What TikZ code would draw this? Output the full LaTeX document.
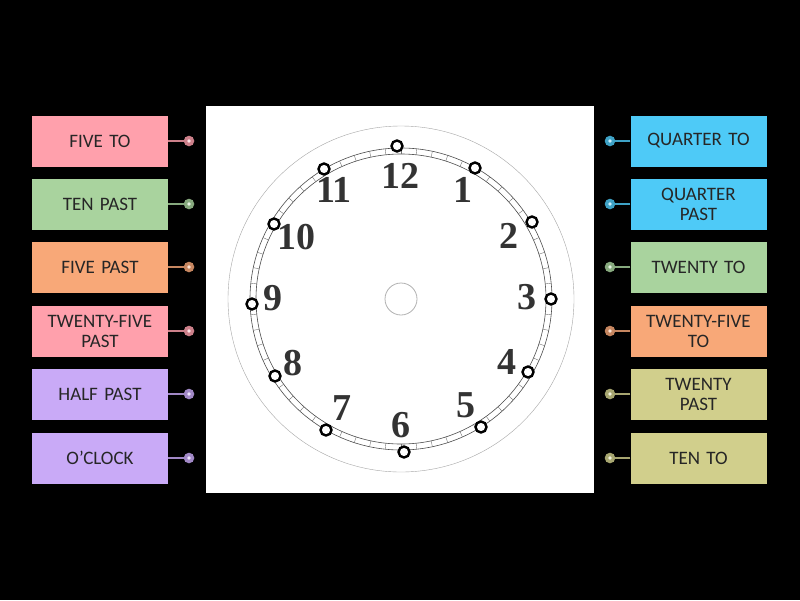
\documentclass[tikz,border=0pt]{standalone}
\usepackage{fontspec}
\usetikzlibrary{calc}
\setmainfont{Carlito}
\newfontfamily\numfont{Liberation Serif}
\definecolor{cpink}{HTML}{FFA0AC}
\definecolor{cgreen}{HTML}{A9D39E}
\definecolor{corange}{HTML}{F8A878}
\definecolor{cpurple}{HTML}{C9AAF7}
\definecolor{cblue}{HTML}{4ECAF7}
\definecolor{colive}{HTML}{D1CF8C}
\tikzset{
 lab/.style={fill=#1, minimum width=136pt, minimum height=51pt, inner sep=2pt, align=center, font=\fontsize{19}{20}\selectfont, text=black!85, text width=132pt},
 pin/.style={circle, fill=#1!80!black, draw=#1!80!black, line width=1.5pt, inner sep=0pt, minimum size=9pt, path picture={\fill[#1!30!white] (path picture bounding box.center) circle (1.8pt);}},
 hole/.style={circle, draw=black, line width=2.4pt, fill=white, inner sep=0pt, minimum size=11pt},
 num/.style={font=\numfont\bfseries\fontsize{38}{38}\selectfont, text=black!80}
}
\begin{document}
\begin{tikzpicture}[x=1pt,y=-1pt]
\fill[black] (0,0) rectangle (800,600);
\useasboundingbox (0,0) rectangle (800,600);
\fill[white] (206,106) rectangle (594,493);
\coordinate (c) at (401,299);
\draw[black!35, line width=0.4pt] (c) circle (173);
\draw[black!70, line width=0.6pt] (c) circle (151);
\draw[black!70, line width=0.6pt] (c) circle (145);
\foreach \i in {0,...,59} \draw[black!55, line width=0.4pt] ($(c)+(\i*6:145)$) -- ($(c)+(\i*6:151)$);
\draw[black!30, line width=0.8pt] (c) circle (16);
\foreach \n/\x/\y in {12/400/176,1/463/190,2/509/236,3/527/297,4/507/362,5/466/405,6/401/425,7/342/408,8/293/363,9/273/298,10/296/237,11/334/190}
  \node[num] (n\n) at (\x,\y) {\n};
\foreach \n/\x/\y in {12/397/146,1/475/168,2/532/222,3/551/299,4/528/372,5/481/427,6/404/452,7/326/430,8/275/376,9/252/304,10/274/224,11/324/169}
  \node[hole] (h\n) at (\x,\y) {};
% left
\foreach \k/\t/\col/\y in {a/FIVE TO/cpink/141, b/TEN PAST/cgreen/204, c/FIVE PAST/corange/267, d/TWENTY-FIVE\\PAST/cpink/331, e/HALF PAST/cpurple/394, f/O'CLOCK/cpurple/458}{
  \node[lab=\col] (L\k) at (100,\y) {\t};
  \node[pin=\col] (P\k) at (189,\y) {};
  \draw[\col!80!black, line width=2pt] (L\k.east) -- (P\k);
}
% right
\foreach \k/\t/\col/\y in {a/QUARTER TO/cblue/141, b/QUARTER\\PAST/cblue/204, c/TWENTY TO/cgreen/267, d/TWENTY-FIVE\\TO/corange/331, e/TWENTY\\PAST/colive/394, f/TEN TO/colive/458}{
  \node[lab=\col] (R\k) at (698.5,\y) {\t};
  \node[pin=\col] (Q\k) at (610,\y) {};
  \draw[\col!80!black, line width=2pt] (R\k.west) -- (Q\k);
}
\end{tikzpicture}
\end{document}
